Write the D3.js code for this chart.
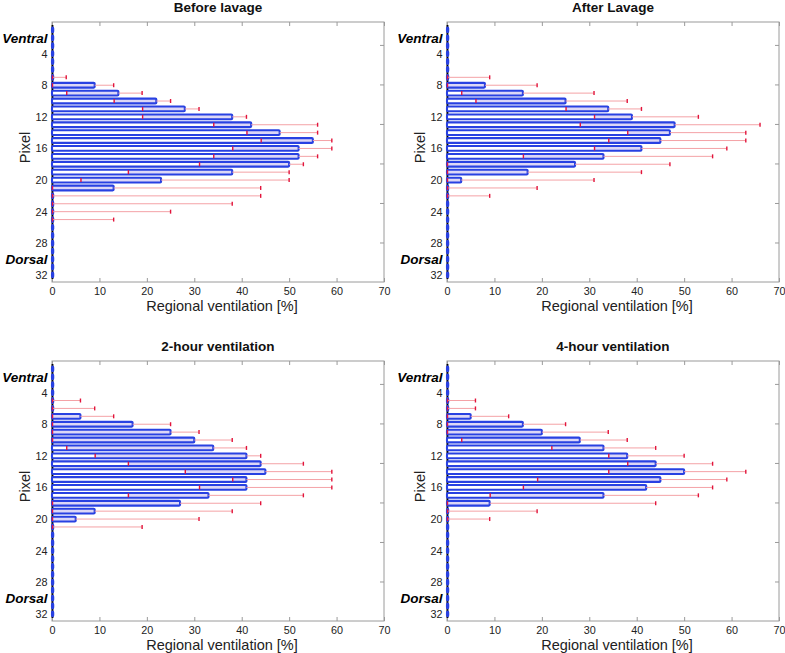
<!DOCTYPE html>
<html>
<head>
<meta charset="utf-8">
<script src="https://cdn.jsdelivr.net/npm/d3@7"></script>
<style>
  html, body { margin: 0; padding: 0; background: #fff; }
  svg { display: block; font-family: "Liberation Sans", Arial, Helvetica, sans-serif; }
</style>
</head>
<body>
<svg id="chart" width="785" height="653"></svg>
<script>
// ---- data (pixel rows 1..32) ----
const pixels = d3.range(1, 33);
const panelTitles = ["Before lavage", "After Lavage", "2-hour ventilation", "4-hour ventilation"];
const xTicks = [0, 10, 20, 30, 40, 50, 60, 70];
const yTickValues = [2, 4, 8, 12, 16, 20, 24, 28, 30, 32];
const yTickLabels = ["Ventral", "4", "8", "12", "16", "20", "24", "28", "Dorsal", "32"];
const rightTicks = [5, 10, 15, 20, 25, 30];

// Before lavage
const beforeMean = [0,0,0,0,0,0,0,9,14,22,28,38,42,48,55,52,52,50,38,23,13,0,0,0,0,0,0,0,0,0,0,0];
const beforeLow  = [0,0,0,0,0,0,0,0,3,13,19,19,34,41,44,38,34,31,16,6,0,0,0,0,0,0,0,0,0,0,0,0];
const beforeHigh = [0,0,0,0,0,0,3,13,19,25,31,41,56,56,59,59,56,53,50,50,44,44,38,25,13,0,0,0,0,0,0,0];
// After lavage
const afterMean = [0,0,0,0,0,0,0,8,16,25,34,39,48,47,45,41,33,27,17,3,0,0,0,0,0,0,0,0,0,0,0,0];
const afterLow  = [0,0,0,0,0,0,0,0,3,6,25,31,28,38,34,31,16,0,0,0,0,0,0,0,0,0,0,0,0,0,0,0];
const afterHigh = [0,0,0,0,0,0,9,19,31,38,41,53,66,63,63,59,56,47,41,31,19,9,0,0,0,0,0,0,0,0,0,0];
// 2-hour ventilation
const h2Mean = [0,0,0,0,0,0,6,17,25,30,34,41,44,45,41,41,33,27,9,5,0,0,0,0,0,0,0,0,0,0,0,0];
const h2Low  = [0,0,0,0,0,0,0,0,0,0,3,9,16,28,38,31,16,0,0,0,0,0,0,0,0,0,0,0,0,0,0,0];
const h2High = [0,0,0,0,6,9,13,25,31,38,41,44,53,59,59,59,53,44,38,31,19,0,0,0,0,0,0,0,0,0,0,0];
// 4-hour ventilation
const h4Mean = [0,0,0,0,0,0,5,16,20,28,33,38,44,50,45,42,33,9,0,0,0,0,0,0,0,0,0,0,0,0,0,0];
const h4Low  = [0,0,0,0,0,0,0,0,0,3,22,34,38,34,19,16,9,0,0,0,0,0,0,0,0,0,0,0,0,0,0,0];
const h4High = [0,0,0,0,6,6,13,25,34,38,44,50,56,63,59,56,53,44,19,9,0,0,0,0,0,0,0,0,0,0,0,0];

const panelData = [
  [beforeMean, beforeLow, beforeHigh],
  [afterMean, afterLow, afterHigh],
  [h2Mean, h2Low, h2High],
  [h4Mean, h4Low, h4High]
];

// ---- layout ----
const panelBoxes = [
  {x0: 52, x1: 384, y0: 22, y1: 282},
  {x0: 447, x1: 779, y0: 22, y1: 282},
  {x0: 52, x1: 384, y0: 361, y1: 621},
  {x0: 447, x1: 779, y0: 361, y1: 621}
];

const svg = d3.select("#chart");
const axisColor = "#9a9a9a";
const barStroke = "#2841e2";
const barTint = "#dcd7f6";
const errLine = "#f4a2a6";
const errCap = "#e2153c";

panelBoxes.forEach((b, pi) => {
  const [mean, low, high] = panelData[pi];
  const g = svg.append("g");
  const x = d3.scaleLinear().domain([0, 70]).range([b.x0, b.x1]);
  const y = d3.scaleLinear().domain([0, 32.9]).range([b.y0, b.y1]);
  const yR = d3.scaleLinear().domain([0, 32.9]).range([b.y1, b.y0]);
  const step = y(1) - y(0);
  const bh = step * 0.6;

  // box
  g.append("rect").attr("x", b.x0).attr("y", b.y0)
    .attr("width", b.x1 - b.x0).attr("height", b.y1 - b.y0)
    .attr("fill", "none").attr("stroke", axisColor).attr("stroke-width", 1);

  // bottom axis
  const ax = g.append("g").attr("transform", `translate(0,${b.y1})`)
    .call(d3.axisBottom(x).tickValues(xTicks).tickSize(-4).tickPadding(5).tickFormat(d3.format("d")));
  ax.select(".domain").remove();
  ax.selectAll("line").attr("stroke", axisColor);
  ax.selectAll("text").attr("font-size", 10.8).attr("fill", "#222")
    .attr("font-family", "Liberation Sans, Arial, sans-serif");

  // top axis (ticks only)
  const at = g.append("g").attr("transform", `translate(0,${b.y0})`)
    .call(d3.axisTop(x).tickValues(xTicks).tickSize(-4).tickFormat(""));
  at.select(".domain").remove();
  at.selectAll("line").attr("stroke", axisColor);

  // right axis (ticks only)
  const ar = g.append("g").attr("transform", `translate(${b.x1},0)`)
    .call(d3.axisRight(yR).tickValues(rightTicks).tickSize(-4).tickFormat(""));
  ar.select(".domain").remove();
  ar.selectAll("line").attr("stroke", axisColor);

  // left axis labels
  const isSide = (i) => yTickLabels[i] === "Ventral" || yTickLabels[i] === "Dorsal";
  const al = g.append("g").attr("transform", `translate(${b.x0},0)`)
    .call(d3.axisLeft(y).tickValues(yTickValues).tickSize(0).tickPadding(4.5)
      .tickFormat((d, i) => yTickLabels[i]));
  al.select(".domain").remove();
  al.selectAll("text").attr("font-family", "Liberation Sans, Arial, sans-serif")
    .attr("font-size", (d, i) => isSide(i) ? 13.5 : 10.8)
    .attr("font-weight", (d, i) => isSide(i) ? "bold" : "normal")
    .attr("font-style", (d, i) => isSide(i) ? "italic" : "normal")
    .attr("fill", (d, i) => isSide(i) ? "#000" : "#222");

  // baseline
  g.append("line").attr("x1", x(0) + 0.5).attr("x2", x(0) + 0.5).attr("y1", b.y0 + 3).attr("y2", b.y1 - 3)
    .attr("stroke", "#000").attr("stroke-width", 1.8);

  const rows = pixels.map((p, i) => ({p, m: mean[i], lo: low[i], hi: high[i]}));
  const bw = d => Math.max(x(d.m) - x(0), 1.2);

  // bar fill
  g.selectAll(".barfill").data(rows).join("rect")
    .attr("x", x(0)).attr("y", d => y(d.p) - bh / 2)
    .attr("width", bw).attr("height", bh)
    .attr("fill", "#fff");
  // tint between lower whisker and bar end
  g.selectAll(".tint").data(rows.filter(d => d.m > d.lo)).join("rect")
    .attr("x", d => x(d.lo)).attr("y", d => y(d.p) - bh / 2)
    .attr("width", d => x(d.m) - x(d.lo)).attr("height", bh)
    .attr("fill", barTint);
  // bar outline
  g.selectAll(".barline").data(rows).join("rect")
    .attr("x", x(0)).attr("y", d => y(d.p) - bh / 2)
    .attr("width", bw).attr("height", bh)
    .attr("rx", 1).attr("fill", d => d.m > 0 ? "none" : barStroke)
    .attr("stroke", barStroke).attr("stroke-width", 2.1).attr("stroke-linejoin", "round");

  // error bars
  const err = rows.filter(d => d.hi > 0);
  g.selectAll(".errl").data(err).join("line")
    .attr("x1", d => x(Math.max(d.lo, d.m))).attr("x2", d => x(d.hi))
    .attr("y1", d => y(d.p)).attr("y2", d => y(d.p))
    .attr("stroke", errLine).attr("stroke-width", 1);
  g.selectAll(".caplo").data(err).join("line")
    .attr("x1", d => x(d.lo) + 0.5).attr("x2", d => x(d.lo) + 0.5)
    .attr("y1", d => y(d.p) - 2).attr("y2", d => y(d.p) + 2)
    .attr("stroke", errCap).attr("stroke-width", 1.4);
  g.selectAll(".caphi").data(err).join("line")
    .attr("x1", d => x(d.hi)).attr("x2", d => x(d.hi))
    .attr("y1", d => y(d.p) - 2).attr("y2", d => y(d.p) + 2)
    .attr("stroke", errCap).attr("stroke-width", 1.4);

  // title
  g.append("text").attr("x", (b.x0 + b.x1) / 2).attr("y", b.y0 - 10)
    .attr("text-anchor", "middle").attr("font-size", 13.5).attr("font-weight", "bold")
    .attr("fill", "#111").text(panelTitles[pi]);
  // x label
  g.append("text").attr("x", (b.x0 + b.x1) / 2 + 4).attr("y", b.y1 + 29)
    .attr("text-anchor", "middle").attr("font-size", 14.5).attr("fill", "#222")
    .text("Regional ventilation [%]");
  // y label
  const cy = (b.y0 + b.y1) / 2 - 4.5;
  g.append("text").attr("transform", `translate(${b.x0 - 22},${cy}) rotate(-90)`)
    .attr("text-anchor", "middle").attr("font-size", 14.5).attr("fill", "#222")
    .text("Pixel");
});
</script>
</body>
</html>
